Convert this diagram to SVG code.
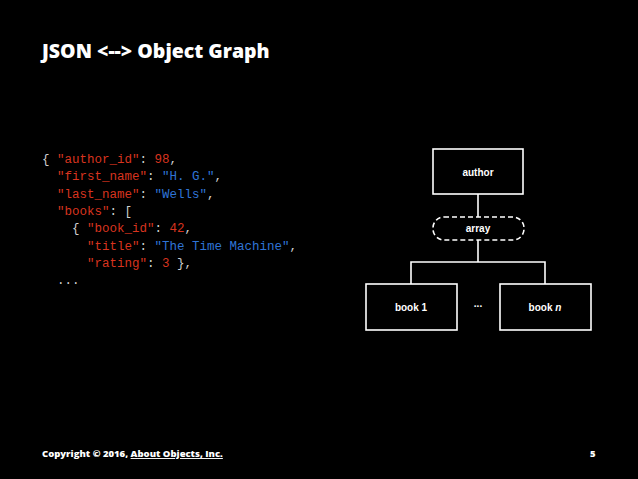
<svg xmlns="http://www.w3.org/2000/svg" width="638" height="479" viewBox="0 0 638 479">
<style>
.code{font-family:"Liberation Mono",monospace;font-size:12.5px;fill:#cfcfcf}
.k{fill:#d8341f}.s{fill:#2f74d6}
.box{fill:none;stroke:#fff;stroke-width:1.6}
.lbl{font-family:"Liberation Sans",sans-serif;font-size:10px;font-weight:700;fill:#fff;text-anchor:middle}
.ln{stroke:#fff;stroke-width:1.6;fill:none}
.hd{font-family:"Open Sans","Liberation Sans",sans-serif;font-weight:800;fill:#fff}
</style>
<rect width="638" height="479" fill="#000"/>
<text class="hd" x="42" y="58" font-size="19.5">JSON &lt;--&gt; Object Graph</text>
<g class="code">
<text x="42" y="163">{ <tspan class="k">"author_id"</tspan>: <tspan class="k">98</tspan>,</text>
<text x="57" y="180"><tspan class="k">"first_name"</tspan>: <tspan class="s">"H. G."</tspan>,</text>
<text x="57" y="198"><tspan class="k">"last_name"</tspan>: <tspan class="s">"Wells"</tspan>,</text>
<text x="57" y="215"><tspan class="k">"books"</tspan>: [</text>
<text x="72" y="232">{ <tspan class="k">"book_id"</tspan>: <tspan class="k">42</tspan>,</text>
<text x="87" y="250"><tspan class="k">"title"</tspan>: <tspan class="s">"The Time Machine"</tspan>,</text>
<text x="87" y="267"><tspan class="k">"rating"</tspan>: <tspan class="k">3</tspan> },</text>
<text x="57" y="284">...</text>
</g>
<g id="connectors" class="ln">
<line x1="478" y1="194" x2="478" y2="217"/>
<line x1="478" y1="240" x2="478" y2="262"/>
<polyline points="411,284 411,262 545,262 545,284"/>
</g>
<g id="author"><rect class="box" x="433" y="149" width="90" height="45"/><text class="lbl" x="478" y="176">author</text></g>
<g id="array"><rect class="box" x="433" y="217" width="91" height="23" rx="11" stroke-dasharray="5,3"/><text class="lbl" x="478" y="232">array</text></g>
<g id="book1"><rect class="box" x="366" y="284" width="91" height="46"/><text class="lbl" x="411" y="311">book 1</text></g>
<g id="bookn"><rect class="box" x="500" y="284" width="91" height="46"/><text class="lbl" x="545" y="311">book <tspan font-style="italic">n</tspan></text></g>
<text class="lbl" x="478" y="307" font-size="16">...</text>
<text class="hd" x="42" y="457" font-size="9.5">Copyright © 2016, <tspan text-decoration="underline">About Objects, Inc.</tspan></text>
<text class="hd" x="590" y="457" font-size="9.5">5</text>
</svg>
